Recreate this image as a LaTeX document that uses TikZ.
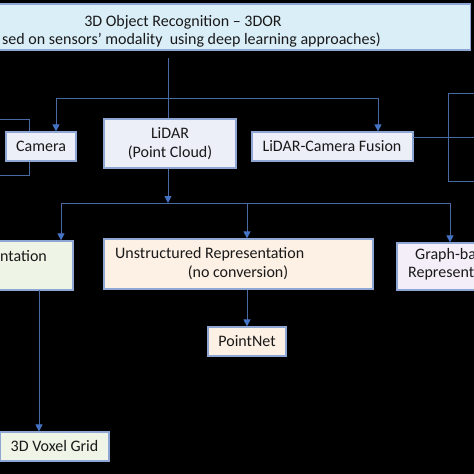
\documentclass[tikz,border=0pt]{standalone}
\usepackage{fontspec}
\setmainfont{Carlito}
\usetikzlibrary{arrows.meta,calc,positioning}
\definecolor{linecol}{HTML}{4A6AA3}
\definecolor{tipcol}{HTML}{4472C4}
\definecolor{edgecol}{HTML}{8EA6D4}
\definecolor{titlefill}{HTML}{DAEEF8}
\definecolor{sensfill}{HTML}{ECEFF8}
\definecolor{voxfill}{HTML}{EEF4E6}
\definecolor{rawfill}{HTML}{FDF0E4}
\definecolor{graphfill}{HTML}{F3EEF8}

\begin{document}
\begin{tikzpicture}[x=1pt,y=-1pt,
	box/.style={draw=edgecol,line width=1.2pt,rectangle,inner sep=0pt},
	txt/.style={inner sep=0pt,text=black!90,font=\fontsize{16}{19}\selectfont},
	conn/.style={draw=linecol,line width=0.9pt},
	arr/.style={conn,-{Triangle[length=7pt,width=7pt,fill=tipcol,color=tipcol]}}]
	\useasboundingbox	(0,0) rectangle (474,474);
	\clip				(0,0) rectangle (474,474);
	\fill[black]		(0,0) rectangle (474,474);

	\coordinate (camin)  at (-2,119);
	\coordinate (camout) at (-2,175);
	\draw[conn]	(camin) -- (29,119) -- (29,175) -- (camout);
	\coordinate (fusin)  at (476,93);
	\coordinate (fusout) at (476,181);
	\draw[conn]	(fusin) -- (448,93) -- (448,181) -- (fusout);

	\node[box,fill=titlefill,minimum width=531pt,minimum height=46pt]	(dor)	at (205,27)		{};
	\node[txt]								(dorA)	at (183,22)		{3D Object Recognition – 3DOR};
	\node[txt,anchor=west]					(dorB)	at (2,40)		{sed on sensors’ modality\ \ using deep learning approaches)};

	\node[box,fill=sensfill,minimum width=70pt,minimum height=29pt]		(cam)	at (41,146.5)	{};
	\node[txt]								(camT)	at (41,146)		{Camera};
	\node[box,fill=sensfill,minimum width=132pt,minimum height=49pt]	(lid)	at (170,143.5)	{};
	\node[txt,align=center]					(lidT)	at (170,144)	{LiDAR\\(Point Cloud)};
	\node[box,fill=sensfill,minimum width=161pt,minimum height=29pt]	(fus)	at (332.5,146.5){};
	\node[txt]								(fusT)	at (332,146)	{LiDAR-Camera Fusion};

	\node[box,fill=voxfill,minimum width=153pt,minimum height=49pt]		(vox)	at (-3.5,265.5)	{};
	\node[txt,anchor=west]					(voxT)	at (0,256)		{ntation};
	\node[box,fill=rawfill,minimum width=269pt,minimum height=50pt]		(raw)	at (238.5,264)	{};
	\node[txt,anchor=west]					(rawA)	at (115,254)	{Unstructured Representation};
	\node[txt]								(rawB)	at (238,273)	{(no conversion)};
	\node[box,fill=graphfill,minimum width=163pt,minimum height=47pt]	(gra)	at (478.5,266.5){};
	\node[txt,anchor=west]					(graA)	at (415,255)	{Graph-ba};
	\node[txt,anchor=west]					(graB)	at (408,274)	{Represent};

	\node[box,fill=rawfill,minimum width=78pt,minimum height=29pt]		(pnet)	at (247,341.5)	{};
	\node[txt]								(pnetT)	at (247,341)	{PointNet};
	\node[box,fill=voxfill,minimum width=109pt,minimum height=29pt]		(grid)	at (54.5,446.5)	{};
	\node[txt]								(gridT)	at (54.5,446)	{3D Voxel Grid};

	\coordinate (s1) at (168,58);
	\coordinate (s2) at (56,98);
	\coordinate (s3) at (378,98);
	\coordinate (f1) at (413,137);
	\draw[conn]	(s1) -- (s1 |- lid.north);
	\draw[conn]	(s2) -- (s3);
	\draw[arr]	(s2) -- (s2 |- cam.north);
	\draw[arr]	(s3) -- (s3 |- fus.north);
	\draw[conn]	(f1) -- (fusin |- f1);

	\coordinate (r1) at (168,203);
	\coordinate (r2) at (61,203);
	\coordinate (r3) at (247,203);
	\coordinate (r4) at (450,203);
	\coordinate (v1) at (39,290);
	\draw[arr]	(r1 |- lid.south) -- (r1);
	\draw[conn]	(r2) -- (r4);
	\draw[arr]	(r2) -- (r2 |- vox.north);
	\draw[arr]	(r3) -- (r3 |- raw.north);
	\draw[arr]	(r4) -- (r4 |- gra.north);

	\draw[arr]	(v1) -- (v1 |- grid.north);
	\draw[arr]	(raw.south -| pnet) -- (pnet.north);
\end{tikzpicture}
\end{document}
